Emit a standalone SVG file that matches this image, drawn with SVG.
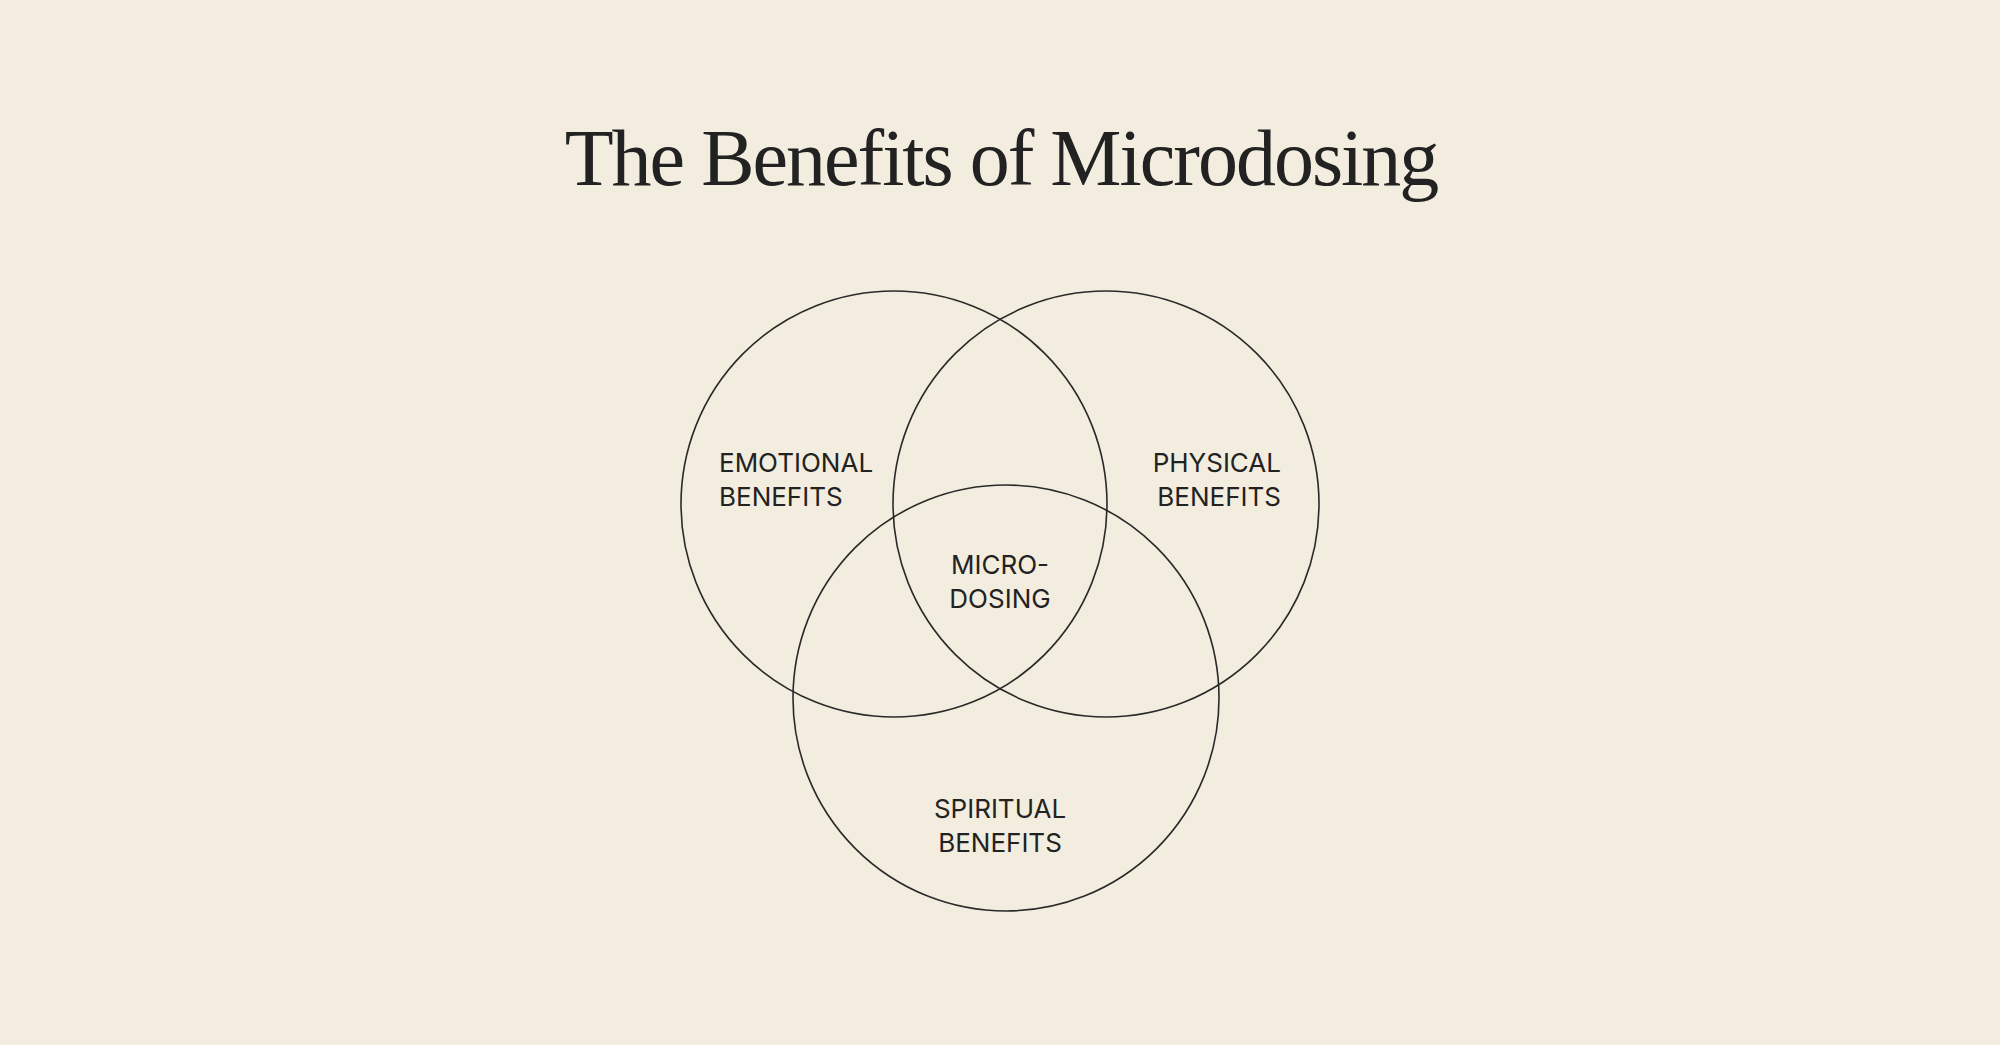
<svg xmlns="http://www.w3.org/2000/svg" width="2000" height="1045" viewBox="0 0 2000 1045">
<style>
.c{fill:none;stroke:#2a2a2a;stroke-width:1.6}
.l{font-family:"Inter","Liberation Sans",sans-serif;font-size:26px;fill:#222}
.t{font-family:"Liberation Serif",serif;font-size:80px;fill:#222;letter-spacing:-2px}
</style>
<rect width="2000" height="1045" fill="#F2EDDE"/>
<text class="t" x="1001" y="185" text-anchor="middle">The Benefits of Microdosing</text>
<g id="emotional"><circle class="c" cx="894" cy="504" r="213"/><text class="l" x="719" y="472">EMOTIONAL</text><text class="l" x="719" y="506">BENEFITS</text></g>
<g id="physical"><circle class="c" cx="1106" cy="504" r="213"/><text class="l" x="1281" y="472" text-anchor="end">PHYSICAL</text><text class="l" x="1281" y="506" text-anchor="end">BENEFITS</text></g>
<g id="spiritual"><circle class="c" cx="1006" cy="698" r="213"/><text class="l" x="1000" y="818" text-anchor="middle">SPIRITUAL</text><text class="l" x="1000" y="852" text-anchor="middle">BENEFITS</text></g>
<g id="microdosing"><text class="l" x="1000" y="574" text-anchor="middle">MICRO-</text><text class="l" x="1000" y="608" text-anchor="middle">DOSING</text></g>
<g id="connectors"/>
</svg>
